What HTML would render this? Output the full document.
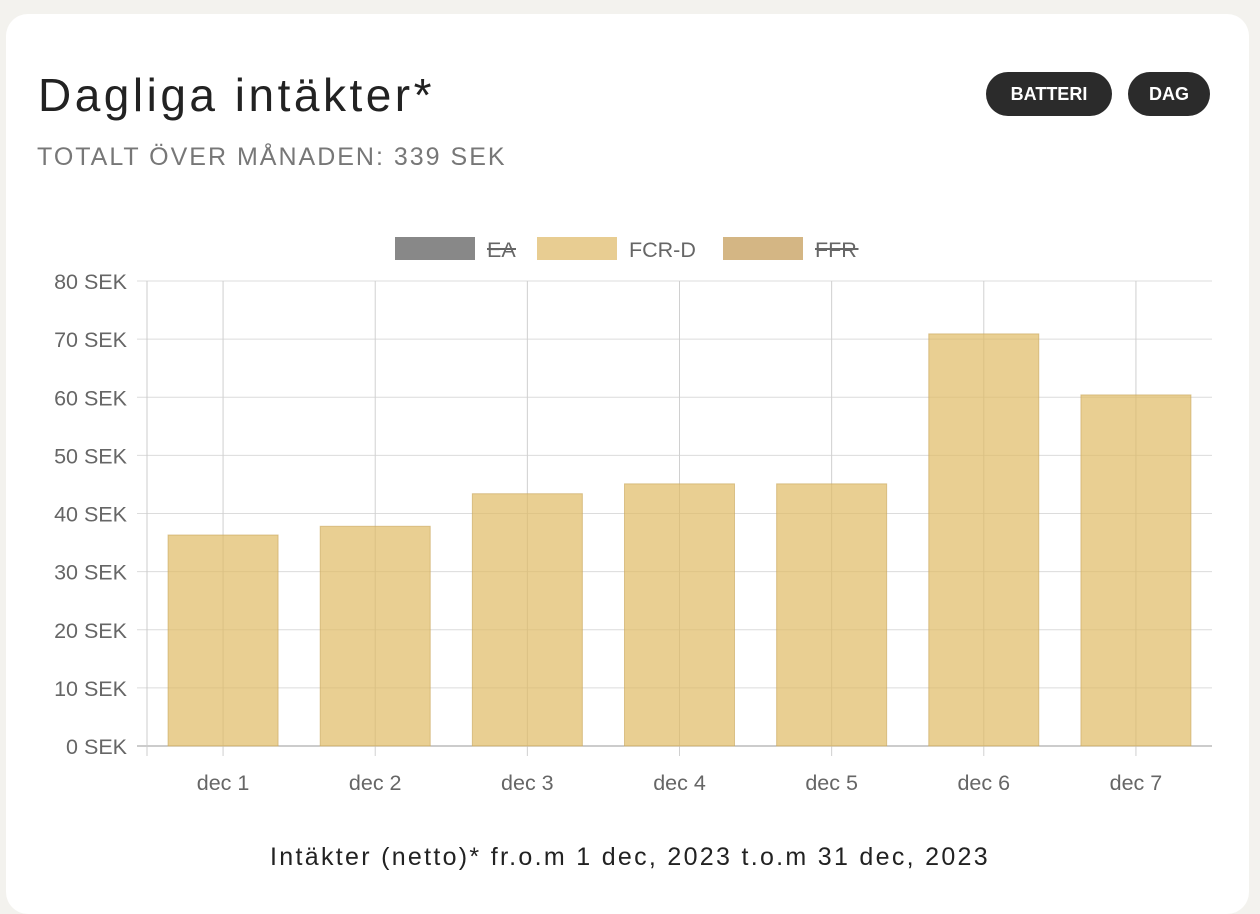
<!DOCTYPE html>
<html><head><meta charset="utf-8"><style>
body{margin:0;width:1260px;height:898px;background:#f3f2ee;font-family:"Liberation Sans",sans-serif;overflow:hidden;position:relative}
.card{position:absolute;left:6px;top:14px;width:1243px;height:900px;background:#fff;border-radius:22px}
.title{position:absolute;left:38px;top:68px;font-size:46px;color:#222;letter-spacing:3.5px}
.sub{position:absolute;left:37px;top:143px;font-size:25px;color:#777;letter-spacing:2px}
.btn{position:absolute;top:72px;height:44px;border-radius:22px;background:#2b2b2b;color:#fff;font-weight:bold;font-size:18px;line-height:44px;text-align:center}
.foot{position:absolute;left:0;width:1260px;top:843px;text-align:center;font-size:25px;color:#222;letter-spacing:2.3px}
</style></head><body>
<div class="card"></div>
<div class="title">Dagliga intäkter*</div>
<div class="sub">TOTALT ÖVER MÅNADEN: 339 SEK</div>
<div class="btn" style="left:986px;width:126px">BATTERI</div>
<div class="btn" style="left:1128px;width:82px">DAG</div>
<svg id="c" width="1260" height="898" style="position:absolute;left:0;top:0"></svg>
<div class="foot">Intäkter (netto)* fr.o.m 1 dec, 2023 t.o.m 31 dec, 2023</div>
<script>
const categories=["dec 1","dec 2","dec 3","dec 4","dec 5","dec 6","dec 7"];
const fcrValues=[36.3,37.8,43.4,45.1,45.1,70.9,60.4];
const yTicks=[0,10,20,30,40,50,60,70,80];
const legendLabels=["EA","FCR-D","FFR"];
const svg=document.getElementById('c');const NS="http://www.w3.org/2000/svg";
const x0=147,x1=1212,y0=746,y1=281,ymax=80;
const bw=(x1-x0)/categories.length;
const yS=v=>y0-(v/ymax)*(y0-y1);
const xC=i=>x0+bw*(i+0.5);
function mk(t,a,p){const e=document.createElementNS(NS,t);for(const k in a)e.setAttribute(k,a[k]);(p||svg).appendChild(e);return e;}
yTicks.forEach(v=>{
 const l=mk('line',{x1:137,x2:x1,y1:yS(v),y2:yS(v),stroke:v===0?'#999':'#dcdcdc','stroke-width':1});
 
 const t=mk('text',{x:127,y:yS(v)+8,'text-anchor':'end','font-size':21.5,fill:'#666'});t.textContent=v+' SEK';
 
});
mk('line',{x1:x0,x2:x0,y1:y1,y2:y0+10,stroke:'#ccc'});
categories.forEach((c,i)=>{
 const l=mk('line',{x1:xC(i),x2:xC(i),y1:y1,y2:y0+10,stroke:'#d0d0d0'});
 
 const t=mk('text',{x:xC(i),y:790,'text-anchor':'middle','font-size':21.5,fill:'#666'});t.textContent=c;
 
});
fcrValues.forEach((v,i)=>{
 const r=mk('rect',{x:xC(i)-55,y:yS(v),width:110,height:y0-yS(v),fill:'rgba(224,186,100,0.7)',stroke:'rgba(200,165,90,0.6)','stroke-width':1});
 
});
const lx=[395,537,723],lc=['#888','#e8cd92','#d4b684'],strike=[true,false,true];
legendLabels.forEach((s,i)=>{
 const g=mk('g',{});
 mk('rect',{x:lx[i],y:237,width:80,height:23,fill:lc[i]},g);
 const t=mk('text',{x:lx[i]+92,y:257,'font-size':21.5,fill:'#666'},g);t.textContent=s;
 if(strike[i]){const w=s.length*14.5;mk('line',{x1:lx[i]+92,x2:lx[i]+92+w,y1:249,y2:249,stroke:'#666','stroke-width':2},g);}
});
</script>
</body></html>
